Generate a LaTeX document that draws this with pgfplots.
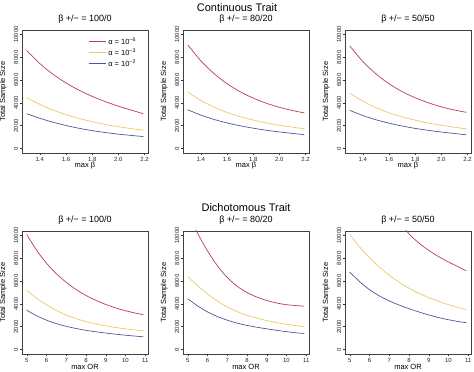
\documentclass[border=0pt]{standalone}
\usepackage{pgfplots}
\pgfplotsset{compat=1.18}
\usepackage{fontspec}
\setmainfont{Liberation Sans}
\definecolor{cred}{RGB}{185,60,85}
\definecolor{cyel}{RGB}{236,200,105}
\definecolor{cblu}{RGB}{85,85,150}
\pgfplotsset{
  panel/.style={
    scale only axis, width=126pt, height=123pt, anchor=south west,
    ymin=-400, ymax=10400, scaled y ticks=false, scaled x ticks=false,
    ytick={0,2000,4000,6000,8000,10000},
    yticklabels={0,2000,4000,6000,8000,10000},
    tick align=outside, major tick length=2.5pt,
    xtick pos=bottom, ytick pos=left,
    tick style={black!80, line width=0.4pt},
    axis line style={black!75, line width=0.5pt},
    tick label style={font=\fontsize{6}{7}\selectfont, text=black!85},
    yticklabel style={rotate=90, anchor=south, inner sep=1pt},
    xticklabel style={inner sep=1.5pt},
    ylabel={Total Sample Size},
    every axis y label/.style={at={(axis description cs:-0.15,0.5)}, rotate=90, anchor=center, font=\fontsize{7.5}{8}\selectfont},
    every axis x label/.style={at={(axis description cs:0.5,-0.105)}, anchor=center, font=\fontsize{7.5}{8}\selectfont},
    every axis title shift=0pt,
    title style={at={(axis description cs:0.5,1.09)}, anchor=center, font=\fontsize{9}{10}\selectfont},
    /pgf/number format/assume math mode=true,
    clip=true,
    every axis plot/.append style={line width=0.7pt, smooth, no marks},
  },
  toprow/.style={panel, xmin=1.264, xmax=2.226, xtick={1.4,1.6,1.8,2.0,2.2}, xticklabels={1.4,1.6,1.8,2.0,2.2}, xlabel={max β}},
  botrow/.style={panel, xmin=4.76, xmax=11.14, xtick={5,6,7,8,9,10,11}, xticklabels={5,6,7,8,9,10,11}, xlabel={max OR}},
}
\begin{document}
\begin{tikzpicture}
\useasboundingbox (0pt,0pt) rectangle (474pt,372pt);
\node[font=\fontsize{11}{12}\selectfont] at (237pt,364.5pt) {Continuous Trait};
\node[font=\fontsize{11}{12}\selectfont] at (246pt,164.5pt) {Dichotomous Trait};
% ---- top row ----
\begin{axis}[toprow, at={(22pt,219pt)}, title={β +/− = 100/0},
  legend style={at={(0.93,0.965)}, anchor=north east, draw=none, fill=none, font=\fontsize{7.5}{8.5}\selectfont, row sep=-1.2pt, inner sep=1pt},
  legend image code/.code={\draw[#1, line width=0.7pt] (0pt,0pt) -- (17pt,0pt);},
  legend cell align=left]
\addplot[cred] coordinates {(1.3,8600) (1.4,7450) (1.5,6520) (1.6,5750) (1.7,5110) (1.8,4570) (1.9,4110) (2.0,3710) (2.1,3360) (2.19,3050)};
\addplot[cyel] coordinates {(1.3,4450) (1.4,3870) (1.5,3380) (1.6,2970) (1.7,2630) (1.8,2350) (1.9,2110) (2.0,1910) (2.1,1740) (2.19,1600)};
\addplot[cblu] coordinates {(1.3,3050) (1.4,2650) (1.5,2305) (1.6,2015) (1.7,1770) (1.8,1565) (1.9,1395) (2.0,1255) (2.1,1140) (2.19,1045)};
\legend{α = 10\textsuperscript{−6}, α = 10\textsuperscript{−3}, α = 10\textsuperscript{−2}}
\end{axis}
\begin{axis}[toprow, at={(183pt,219pt)}, title={β +/− = 80/20}]
\addplot[cred] coordinates {(1.3,9100) (1.4,7700) (1.5,6580) (1.6,5690) (1.7,4980) (1.8,4420) (1.9,3970) (2.0,3610) (2.1,3330) (2.19,3120)};
\addplot[cyel] coordinates {(1.3,4950) (1.4,4220) (1.5,3630) (1.6,3160) (1.7,2790) (1.8,2490) (1.9,2240) (2.0,2040) (2.1,1870) (2.19,1730)};
\addplot[cblu] coordinates {(1.3,3400) (1.4,2930) (1.5,2550) (1.6,2240) (1.7,1990) (1.8,1780) (1.9,1600) (2.0,1450) (2.1,1320) (2.19,1210)};
\end{axis}
\begin{axis}[toprow, at={(345pt,219pt)}, title={β +/− = 50/50}]
\addplot[cred] coordinates {(1.3,9000) (1.4,7640) (1.5,6550) (1.6,5680) (1.7,4990) (1.8,4450) (1.9,4010) (2.0,3650) (2.1,3370) (2.19,3170)};
\addplot[cyel] coordinates {(1.3,4850) (1.4,4150) (1.5,3590) (1.6,3130) (1.7,2770) (1.8,2480) (1.9,2230) (2.0,2030) (2.1,1860) (2.19,1720)};
\addplot[cblu] coordinates {(1.3,3350) (1.4,2890) (1.5,2520) (1.6,2220) (1.7,1970) (1.8,1760) (1.9,1590) (2.0,1440) (2.1,1310) (2.19,1200)};
\end{axis}
% ---- bottom row ----
\begin{axis}[botrow, at={(22pt,18pt)}, title={β +/− = 100/0}]
\addplot[cred] coordinates {(5,10100) (5.5,8700) (6,7570) (6.5,6650) (7,5890) (7.5,5260) (8,4740) (8.5,4310) (9,3950) (9.5,3650) (10,3400) (10.5,3190) (10.9,3050)};
\addplot[cyel] coordinates {(5,5200) (5.5,4500) (6,3920) (6.5,3430) (7,3030) (7.5,2710) (8,2450) (8.5,2240) (9,2070) (9.5,1930) (10,1810) (10.5,1710) (10.9,1640)};
\addplot[cblu] coordinates {(5,3450) (5.5,2960) (6,2570) (6.5,2270) (7,2030) (7.5,1840) (8,1680) (8.5,1550) (9,1440) (9.5,1340) (10,1250) (10.5,1170) (10.9,1110)};
\end{axis}
\begin{axis}[botrow, at={(183pt,18pt)}, title={β +/− = 80/20}]
\addplot[cred] coordinates {(5,12000) (5.5,10200) (6,8650) (6.5,7350) (7,6320) (7.5,5550) (8,5000) (8.5,4600) (9,4300) (9.5,4080) (10,3930) (10.5,3850) (10.9,3800)};
\addplot[cyel] coordinates {(5,6400) (5.5,5600) (6,4880) (6.5,4250) (7,3730) (7.5,3320) (8,3000) (8.5,2750) (9,2540) (9.5,2360) (10,2210) (10.5,2090) (10.9,2000)};
\addplot[cblu] coordinates {(5,4450) (5.5,3820) (6,3300) (6.5,2890) (7,2570) (7.5,2310) (8,2110) (8.5,1950) (9,1810) (9.5,1680) (10,1560) (10.5,1460) (10.9,1400)};
\end{axis}
\begin{axis}[botrow, at={(345pt,18pt)}, title={β +/− = 50/50}]
\addplot[cred] coordinates {(7,12700) (7.5,11300) (8,10150) (8.5,9350) (9,8700) (9.5,8150) (10,7680) (10.5,7250) (10.9,6900)};
\addplot[cyel] coordinates {(5,10100) (5.5,9000) (6,8050) (6.5,7230) (7,6520) (7.5,5900) (8,5380) (8.5,4930) (9,4550) (9.5,4220) (10,3930) (10.5,3680) (10.9,3500)};
\addplot[cblu] coordinates {(5,6800) (5.5,5950) (6,5250) (6.5,4700) (7,4260) (7.5,3900) (8,3580) (8.5,3290) (9,3030) (9.5,2800) (10,2610) (10.5,2450) (10.9,2350)};
\end{axis}
\end{tikzpicture}
\end{document}
